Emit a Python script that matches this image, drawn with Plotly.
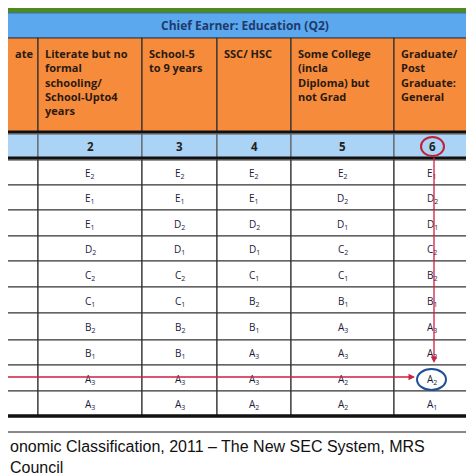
import plotly.graph_objects as go

# table content
title = "Chief Earner: Education (Q2)"
headers = ["ate", "Literate but no<br>formal<br>schooling/<br>School-Upto4<br>years",
           "School-5<br>to 9 years", "SSC/ HSC", "Some College<br>(incla<br>Diploma) but<br>not Grad",
           "Graduate/<br>Post<br>Graduate:<br>General", "G<br>F<br>C<br>F"]
codes = ["", "2", "3", "4", "5", "6", ""]
col2 = ["E2", "E1", "E1", "D2", "C2", "C1", "B2", "B1", "A3", "A3"]
col3 = ["E2", "E1", "D2", "D1", "C2", "C1", "B2", "B1", "A3", "A3"]
col4 = ["E2", "E1", "D2", "D1", "C1", "B2", "B1", "A3", "A3", "A2"]
col5 = ["E2", "D2", "D1", "C2", "C1", "B1", "A3", "A3", "A2", "A2"]
col6 = ["E1", "D2", "D1", "C2", "B2", "B1", "A3", "A2", "A2", "A1"]
caption = ["onomic Classification, 2011 \u2013 The New SEC System, MRS", "Council"]

columns = [[""] * 10, col2, col3, col4, col5, col6, [""] * 10]
xb = [-2, 30, 134, 209, 283, 386, 462, 476]
yb = [152, 177, 202, 228, 253, 279, 305, 332, 357, 383, 408]

def sub(c):
    return c[0] + "<sub>" + c[1:] + "</sub>" if c else ""

fig = go.Figure()
shapes = []
ann = []
font = "Open Sans"

def rect(x0, y0, x1, y1, fill, lw=1, lc="#222"):
    shapes.append(dict(type="rect", x0=x0, x1=x1, y0=y0, y1=y1, fillcolor=fill,
                       line=dict(color=lc, width=lw), layer="below"))

rect(-2, -2, 476, 5, "#4c8a22", 0)
rect(-2, 5, 476, 30, "#5ba8ef", 1, "#3d6fa8")
ann.append(dict(x=237, y=17, text="<b>" + title + "</b>", showarrow=False,
                font=dict(size=12, color="#1f3a6b", family=font)))
for i in range(7):
    rect(xb[i], 30, xb[i + 1], 124, "#f68b3c", 1.2, "#333")
    ann.append(dict(x=max(xb[i], 0) + 5, y=36, text="<b>" + headers[i] + "</b>", showarrow=False,
                    xanchor="left", yanchor="top", align="left",
                    font=dict(size=11, color="#2a1a10", family=font)))
    rect(xb[i], 126, xb[i + 1], 150, "#aad3f5", 1, "#555")
    ann.append(dict(x=(xb[i] + xb[i + 1]) / 2, y=138, text="<b>" + codes[i] + "</b>",
                    showarrow=False, font=dict(size=11.5, color="#222", family=font)))
    for r in range(10):
        rect(xb[i], yb[r], xb[i + 1], yb[r + 1], "white", 1.2, "#333")
        ann.append(dict(x=(xb[i] + xb[i + 1]) / 2, y=(yb[r] + yb[r + 1]) / 2 + 1,
                        text=sub(columns[i][r]), showarrow=False,
                        font=dict(size=10, color="#1a1a3a", family=font)))

# thick rules
for y, w in [(124, 3), (150, 3), (408, 3.5), (424, 1)]:
    shapes.append(dict(type="line", x0=-2, x1=476, y0=y, y1=y, line=dict(color="#111", width=w)))

# red path and circles
shapes.append(dict(type="circle", x0=413, x1=436, y0=129, y1=148, line=dict(color="#c0203a", width=2)))
shapes.append(dict(type="circle", x0=409, x1=438, y0=361, y1=382, line=dict(color="#1f4f9a", width=2)))
ann.append(dict(x=426, y=355, ax=426, ay=148, axref="x", ayref="y", showarrow=True,
                arrowhead=2, arrowsize=1, arrowwidth=1.3, arrowcolor="#d02040", text=""))
ann.append(dict(x=407, y=369, ax=-2, ay=369, axref="x", ayref="y", showarrow=True,
                arrowhead=2, arrowsize=1, arrowwidth=1.3, arrowcolor="#d02040", text=""))

for k, line in enumerate(caption):
    ann.append(dict(x=0, y=438 + k * 21, text=line, showarrow=False, xanchor="left",
                    font=dict(size=16, color="#111", family="Liberation Sans")))

fig.add_trace(go.Scatter(x=[], y=[]))
fig.update_layout(width=474, height=474, margin=dict(l=0, r=0, t=0, b=0),
                  plot_bgcolor="white", paper_bgcolor="white", showlegend=False,
                  shapes=shapes, annotations=ann,
                  xaxis=dict(range=[0, 474], visible=False, fixedrange=True),
                  yaxis=dict(range=[474, 0], visible=False, fixedrange=True))
fig.write_html("out.html")
